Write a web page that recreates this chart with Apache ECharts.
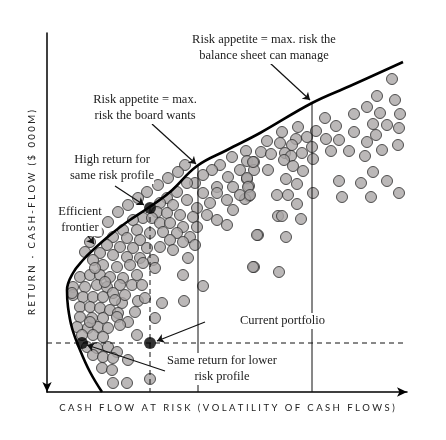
<!DOCTYPE html>
<html>
<head>
<meta charset="utf-8">
<script src="https://cdn.jsdelivr.net/npm/echarts@6/dist/echarts.min.js"></script>
<style>html,body{margin:0;padding:0;background:#fff}#main{width:446px;height:440px}</style>
</head>
<body>
<div id="main"></div>
<script>
// units: risk (x) and return rank (y, inverted scale, higher value = lower return)
var portfolios = [
 [392,79],[377,96],[395,100],[367,107],[380,113],[400,114],[354,114],[325,118],[336,126],[373,124],
 [387,125],[399,128],[298,127],[282,132],[316,131],[354,132],[376,135],[307,137],[326,139],[339,140],
 [296,139],[267,141],[280,143],[292,145],[367,142],[398,145],[312,147],[246,151],[261,152],[271,154],
 [285,153],[302,153],[331,151],[349,151],[382,150],[365,156],[291,156],[313,159],[247,161],[254,162],
 [284,160],[410,162],[293,166],[254,170],[268,170],[303,171],[373,172],[247,179],[286,179],[339,181],
 [361,183],[387,181],[297,184],[249,186],[313,193],[399,193],[277,195],[288,195],[342,197],[371,197],
 [249,196],[245,199],[297,204],[278,216],[282,216],[301,219],[258,235],[286,237],[254,267],[279,272],
 [232,157],[220,165],[212,170],[240,170],[253,162],[228,177],[247,178],[203,175],[195,183],[187,183],
 [217,187],[233,187],[248,187],[177,192],[203,193],[217,193],[240,195],[250,195],[167,198],[187,200],
 [227,200],[160,203],[173,205],[197,208],[210,203],[233,210],[157,212],[167,213],[180,215],[193,217],
 [207,215],[217,220],[227,225],[143,218],[152,218],[133,220],[160,223],[170,223],[183,227],[197,227],
 [123,230],[137,230],[150,233],[163,232],[177,233],[190,237],[257,235],[113,237],[127,238],[140,240],
 [170,240],[183,242],[195,245],[107,245],[120,247],[133,248],[147,248],[160,247],[173,250],[100,253],
 [113,255],[127,257],[140,258],[153,260],[93,260],[103,265],[117,267],[130,265],[143,263],[155,268],
 [188,258],[253,267],[80,277],[90,275],[100,275],[110,277],[123,278],[137,275],[183,275],[73,287],
 [85,287],[97,285],[107,287],[120,285],[132,285],[142,285],[203,286],[73,295],[83,297],[93,297],
 [103,297],[113,293],[122,303],[138,301],[162,303],[184,301],[80,307],[90,307],[100,308],[110,310],
 [118,313],[80,317],[92,318],[103,318],[117,317],[128,322],[155,318],[77,327],[88,328],[98,327],
 [108,328],[82,335],[93,335],[103,337],[137,335],[87,347],[97,348],[108,347],[117,352],[93,355],
 [103,357],[113,358],[128,360],[102,368],[112,370],[113,383],[127,383],[150,379],[72,293],
 [185,165],[178,172],[168,178],[158,185],[147,192],[138,198],[128,205],[118,212],[108,222],[98,232],
 [90,242],[85,252],[95,268],[105,282],[115,300],[125,295],[135,312],[145,298],[120,325],[90,322]
];
var highlights = [[150,208],[150,343],[82,343]];
var frontier = [[102,392],[90,372],[80,350],[72,328],[68,307],[67,290],[73,273],[83,260],[93,250],
 [110,235],[127,222],[148,208],[170,192],[197,166],[227,150],[260,133],[312,103],[350,86],[403,62]];
var boardLimit = [[198,392],[198,166]];
var sheetLimit = [[312,392],[312,103]];
var riskCut = [[150,208],[150,392]];
var returnCut = [[47,343],[404,343]];
var arrows = [
 [[270,63],[310,100]],
 [[152,124],[196,164]],
 [[115,186],[144,205]],
 [[85,232],[94,244]],
 [[205,322],[157,341]],
 [[165,371],[87,345]]
];
var notes = [
 ['Risk appetite = max. risk the\nbalance sheet can manage',264,48],
 ['Risk appetite = max.\nrisk the board wants',145,108],
 ['High return for\nsame risk profile',112,168],
 ['Efficient\nfrontier',80,220],
 ['Current portfolio',240,321],
 ['Same return for lower\nrisk profile',222,369]
];

var chart = echarts.init(document.getElementById('main'));
var serif = 'Liberation Serif';
function seg(d, dashed, w) {
  return {type:'line', data:d, symbol:'none', silent:true, z:3,
    lineStyle:{color:'#111', width:w||1, type:dashed?[5,4]:'solid'}};
}
var series = [
  {type:'scatter', data:portfolios, symbolSize:11, z:2,
   itemStyle:{color:'#aaa6a6', borderColor:'#2a2a2a', borderWidth:1}},
  {type:'line', data:frontier, smooth:0.4, symbol:'none', z:4, lineStyle:{color:'#000', width:2.6}},
  seg(boardLimit), seg(sheetLimit), seg(riskCut, true), seg(returnCut, true),
  {type:'scatter', data:highlights, symbolSize:12, z:5, itemStyle:{color:'#000'}},
  {type:'lines', coordinateSystem:'cartesian2d', z:5, symbol:['none','arrow'], symbolSize:7,
   lineStyle:{color:'#111', width:1.2, opacity:1},
   data:arrows.map(function(a){return {coords:a};})}
];
chart.setOption({
  animation:false,
  grid:{left:47, top:33, width:360, height:359},
  xAxis:{type:'value', min:47, max:407, splitLine:{show:false}, axisTick:{show:false}, axisLabel:{show:false},
    axisLine:{lineStyle:{color:'#000', width:1.5}, symbol:['none','arrow'], symbolSize:[7,10]},
    name:'C A S H   F L O W   A T   R I S K   ( V O L A T I L I T Y   O F   C A S H   F L O W S )',
    nameLocation:'middle', nameGap:11,
    nameTextStyle:{fontFamily:'Lato', fontSize:9.5, color:'#222'}},
  yAxis:{type:'value', min:33, max:392, inverse:true, splitLine:{show:false}, axisTick:{show:false}, axisLabel:{show:false},
    axisLine:{lineStyle:{color:'#000', width:1.5}, symbol:['arrow','none'], symbolSize:[7,10]},
    name:'R E T U R N   ·   C A S H - F L O W   ( $   0 0 0 M )',
    nameLocation:'middle', nameGap:10, nameRotate:90,
    nameTextStyle:{fontFamily:'Lato', fontSize:9.5, color:'#222'}},
  series:series,
  graphic:notes.map(function(n){
    return {type:'text', x:n[1], y:n[2], z:10,
      style:{text:n[0], fontFamily:serif, fontSize:12.5, lineHeight:16, fill:'#222',
        align:n[0]==='Current portfolio'?'left':'center', verticalAlign:'middle',
        backgroundColor:'#fff'}};
  })
});
</script>
</body>
</html>
